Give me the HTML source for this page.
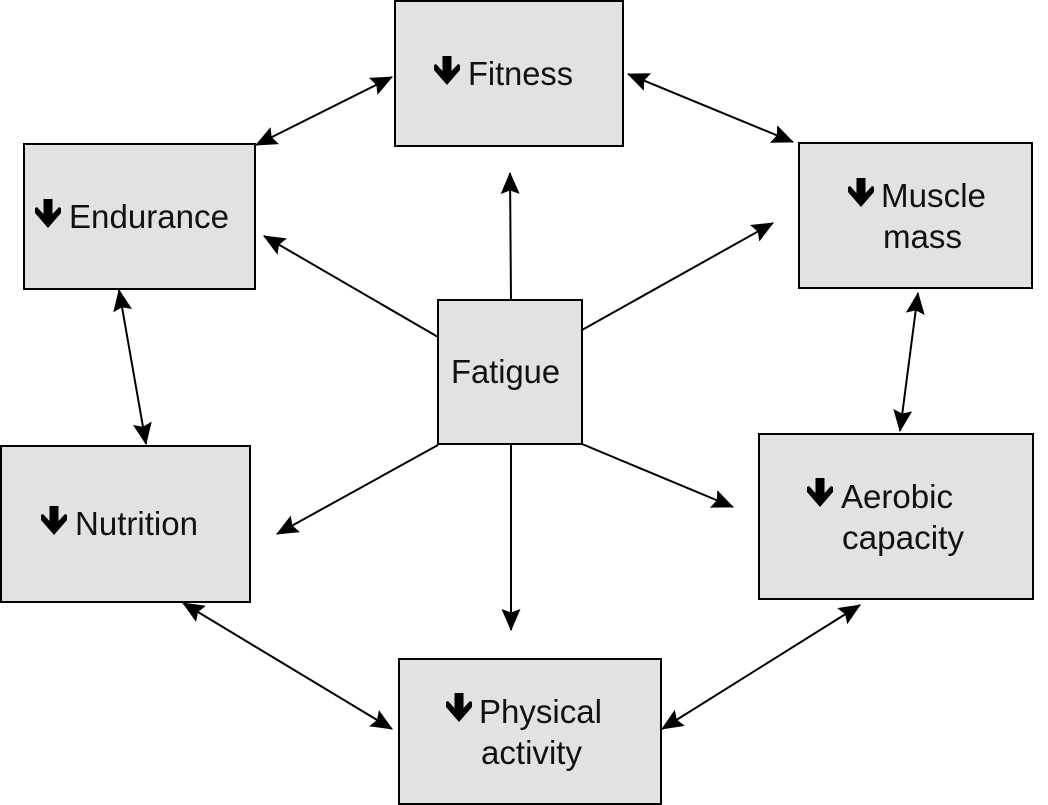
<!DOCTYPE html>
<html><head><meta charset="utf-8"><style>
html,body{margin:0;padding:0;background:#fff}
svg{display:block}
rect{fill:#e1e2e4;stroke:#000;stroke-width:2}
line{stroke:#000;stroke-width:2}
text{font-family:"Liberation Sans",sans-serif;font-size:33px;fill:#111}
</style></head><body>
<svg width="1048" height="805" viewBox="0 0 1048 805" xmlns="http://www.w3.org/2000/svg">
<defs>
<marker id="a" markerUnits="userSpaceOnUse" markerWidth="26" markerHeight="22" refX="21" refY="10" orient="auto-start-reverse" viewBox="0 0 26 20">
<path d="M0 0.5L22 10L0 19.5L3.5 10Z" fill="#000"/>
</marker>
<polygon id="d" points="-4.5,0 4.5,0 4.5,15 11,8 13,9 13,14 0,29 -13,14 -13,9 -11,8 -4.5,15" fill="#000"/>
</defs>
<rect x="395" y="1" width="228" height="145"/>
<rect x="24" y="144" width="231" height="145"/>
<rect x="799" y="143" width="233" height="145"/>
<rect x="438" y="300" width="144" height="144"/>
<rect x="1" y="446" width="249" height="156"/>
<rect x="759" y="434" width="274" height="165"/>
<rect x="399" y="659" width="262" height="145"/>

<line x1="256" y1="145" x2="392" y2="77" marker-start="url(#a)" marker-end="url(#a)"/>
<line x1="628" y1="74" x2="793" y2="142" marker-start="url(#a)" marker-end="url(#a)"/>
<line x1="119" y1="290" x2="146" y2="444" marker-start="url(#a)" marker-end="url(#a)"/>
<line x1="918" y1="293" x2="900" y2="431" marker-start="url(#a)" marker-end="url(#a)"/>
<line x1="183" y1="603" x2="392" y2="729" marker-start="url(#a)" marker-end="url(#a)"/>
<line x1="860" y1="605" x2="662" y2="729" marker-start="url(#a)" marker-end="url(#a)"/>
<line x1="511" y1="300" x2="510" y2="173" marker-end="url(#a)"/>
<line x1="438" y1="337" x2="264" y2="236" marker-end="url(#a)"/>
<line x1="582" y1="330" x2="773" y2="223" marker-end="url(#a)"/>
<line x1="438" y1="445" x2="277" y2="534" marker-end="url(#a)"/>
<line x1="582" y1="444" x2="733" y2="507" marker-end="url(#a)"/>
<line x1="511" y1="445" x2="511" y2="630" marker-end="url(#a)"/>

<use href="#d" x="447" y="56"/>
<text x="468" y="85" textLength="105" lengthAdjust="spacingAndGlyphs">Fitness</text>
<use href="#d" x="48" y="199"/>
<text x="69" y="228" textLength="160" lengthAdjust="spacingAndGlyphs">Endurance</text>
<use href="#d" x="861" y="178"/>
<text x="881" y="207" textLength="105" lengthAdjust="spacingAndGlyphs">Muscle</text>
<text x="883" y="248" textLength="79" lengthAdjust="spacingAndGlyphs">mass</text>
<text x="451" y="383" textLength="109" lengthAdjust="spacingAndGlyphs">Fatigue</text>
<use href="#d" x="54" y="506"/>
<text x="75" y="535" textLength="123" lengthAdjust="spacingAndGlyphs">Nutrition</text>
<use href="#d" x="820" y="478"/>
<text x="841" y="508" textLength="112" lengthAdjust="spacingAndGlyphs">Aerobic</text>
<text x="842" y="549" textLength="122" lengthAdjust="spacingAndGlyphs">capacity</text>
<use href="#d" x="459" y="693"/>
<text x="479" y="723" textLength="123" lengthAdjust="spacingAndGlyphs">Physical</text>
<text x="481" y="764" textLength="101" lengthAdjust="spacingAndGlyphs">activity</text>
</svg>
</body></html>
